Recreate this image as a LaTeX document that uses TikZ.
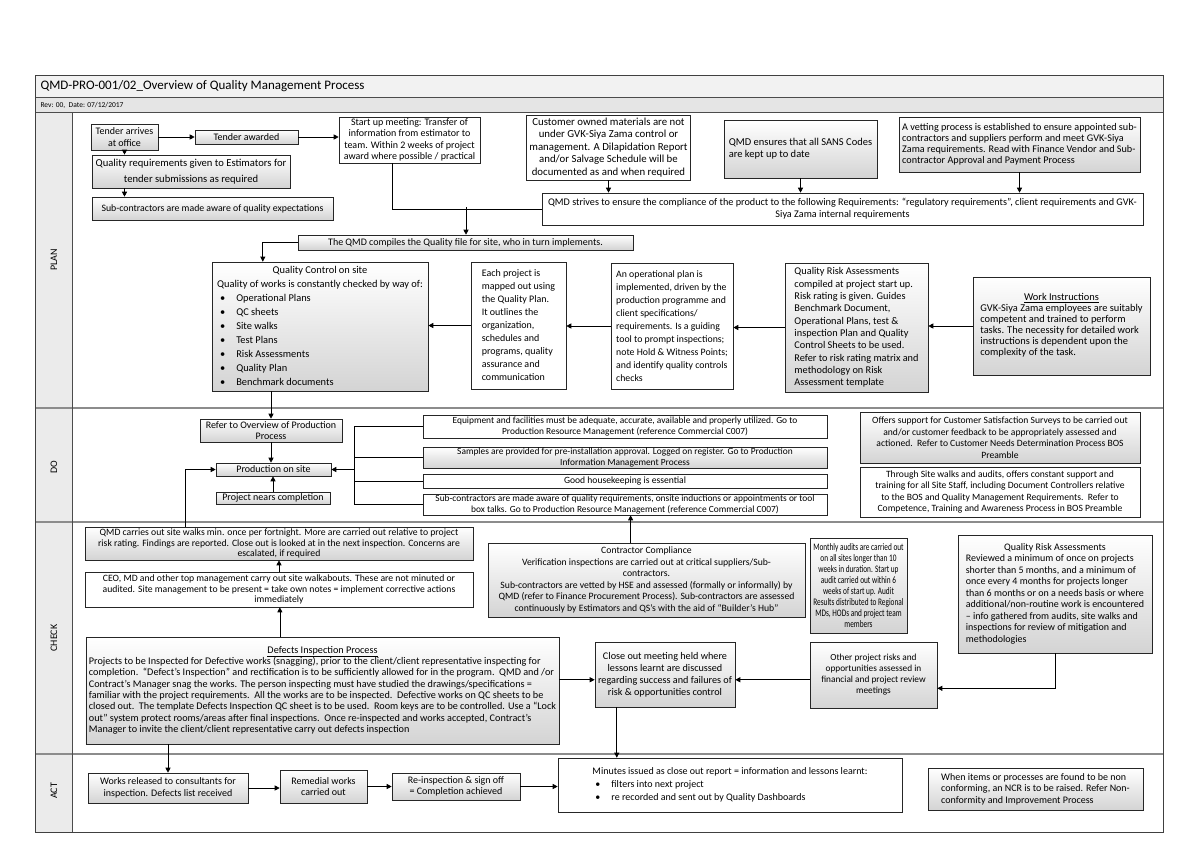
\documentclass[tikz,border=0pt]{standalone}
\usepackage{fontspec}
\setmainfont{Carlito}
\usetikzlibrary{arrows.meta,calc}
\newcommand\lftxt[1]{\begin{tabular}{@{}l@{}}#1\end{tabular}}
\newcommand\qb{\hspace*{3pt}\textbullet\hspace{11pt}}
\newcommand\mc[1]{\multicolumn{1}{@{}c@{}}{#1}}
\newcommand\fsz[2]{\fontsize{#1}{#2}\selectfont}
\begin{document}
\begin{tikzpicture}[x=1pt,y=-1pt,
  bx/.style={draw=black!85, line width=0.6pt, inner xsep=3pt, inner ysep=1pt, align=center,
    font=\fsz{10}{11.5}, top color=white, bottom color=black!17},
  wbx/.style={bx, top color=white, bottom color=white},
  arr/.style={line width=0.7pt, -{Triangle[length=5pt,width=5pt]}},
  ln/.style={line width=0.7pt},
  lane/.style={draw=black!45, line width=1.4pt},
  lab/.style={rotate=90, font=\fsz{10}{12}}
]
\useasboundingbox (0,0) rectangle (1200,849);
\fill[white] (0,0) rectangle (1200,849);
% frame
\fill[black!5] (35,75) rectangle (1163,97);
\fill[black!10] (35,97) rectangle (1163,112);
\fill[black!8] (35,112) rectangle (72,832);
\draw[lane] (35,408) -- (1163,408);
\draw[lane] (35,522) -- (1163,522);
\draw[lane] (35,754) -- (1163,754);
\draw[black!70, line width=0.9pt] (35,97) -- (1163,97);
\draw[black!70, line width=0.9pt] (35,112) -- (1163,112);
\draw[black!70, line width=0.9pt] (72,112) -- (72,832);
\draw[black!75, line width=1pt] (35,75) rectangle (1163,832);
\node[anchor=west, font=\fsz{13}{15}] (title) at (37,86) {QMD-PRO-001/02\_Overview of Quality Management Process};
\node[anchor=west, font=\fsz{7.5}{9}] (rev) at (37,105) {Rev: 00,\ \ Date: 07/12/2017};
\node[lab] (lplan) at (54,260) {PLAN};
\node[lab] (ldo) at (54,467) {DO};
\node[lab] (lcheck) at (54,638) {CHECK};
\node[lab] (lact) at (54,791) {ACT};

% PLAN
\node[bx, minimum width=67, minimum height=26] (ta) at (124.5,137) {Tender arrives\\at office};
\node[bx, minimum width=103, minimum height=14] (tw) at (246.5,137) {Tender awarded};
\node[bx, minimum width=198, minimum height=33, font=\fsz{10.6}{16}] (qr) at (191,171.5) {Quality requirements given to Estimators for\\tender submissions as required};
\node[bx, minimum width=241, minimum height=23, font=\fsz{9.8}{11.5}] (sc) at (212.5,208.5) {Sub-contractors are made aware of quality expectations};
\node[wbx, minimum width=141, minimum height=46] (su) at (409.5,140) {Start up meeting: Transfer of\\information from estimator to\\team. Within 2 weeks of project\\award where possible / practical};
\node[wbx, minimum width=163, minimum height=65, font=\fsz{10.8}{12.4}] (co) at (608.5,147.5) {Customer owned materials are not\\under GVK-Siya Zama control or\\management. A Dilapidation Report\\and/or Salvage Schedule will be\\documented as and when required};
\node[bx, minimum width=153, minimum height=58, align=left, font=\fsz{10.5}{12}] (sans) at (800.5,149) {QMD ensures that all SANS Codes\\are kept up to date};
\node[bx, minimum width=235, minimum height=55, align=left, font=\fsz{10.2}{11}] (vet) at (1019.5,144.5) {A vetting process is established to ensure appointed sub-\\contractors and suppliers perform and meet GVK-Siya\\Zama requirements. Read with Finance Vendor and Sub-\\contractor Approval and Payment Process};
\node[wbx, minimum width=601, minimum height=32, font=\fsz{10.2}{12}] (qs) at (842.5,209) {QMD strives to ensure the compliance of the product to the following Requirements: “regulatory requirements”, client requirements and GVK-\\Siya Zama internal requirements};
\node[bx, minimum width=335, minimum height=15] (qc) at (465.5,242.5) {The QMD compiles the Quality file for site, who in turn implements.};
\node[bx, minimum width=216, minimum height=129, align=none, font=\fsz{10.4}{14}] (qcs) at (320,326.5) {\lftxt{\mc{Quality Control on site}\\Quality of works is constantly checked by way of:\\\qb Operational Plans\\\qb QC sheets\\\qb Site walks\\\qb Test Plans\\\qb Risk Assessments\\\qb Quality Plan\\\qb Benchmark documents}};
\node[wbx, minimum width=95, minimum height=127, align=left, font=\fsz{10}{13}] (ep) at (518.5,325.5) {Each project is\\mapped out using\\the Quality Plan.\\It outlines the\\organization,\\schedules and\\programs, quality\\assurance and\\communication};
\node[wbx, minimum width=122, minimum height=126, align=left, font=\fsz{9.8}{13}] (op) at (672,326) {An operational plan is\\implemented, driven by the\\production programme and\\client specifications/\\requirements. Is a guiding\\tool to prompt inspections;\\note Hold \& Witness Points;\\and identify quality controls\\checks};
\node[bx, minimum width=143, minimum height=129, align=left, font=\fsz{10.3}{12.3}] (qra) at (856.5,327.5) {Quality Risk Assessments\\compiled at project start up.\\Risk rating is given. Guides\\Benchmark Document,\\Operational Plans, test \&\\inspection Plan and Quality\\Control Sheets to be used.\\Refer to risk rating matrix and\\methodology on Risk\\Assessment template};
\node[bx, minimum width=177, minimum height=98, align=none, font=\fsz{10.4}{11}] (wi) at (1061.5,326) {\lftxt{\mc{\underline{Work Instructions}}\\GVK-Siya Zama employees are suitably\\competent and trained to perform\\tasks. The necessity for detailed work\\instructions is dependent upon the\\complexity of the task.}};

% DO
\node[bx, minimum width=142, minimum height=23, font=\fsz{10}{10.5}] (ro) at (271,430.5) {Refer to Overview of Production\\Process};
\node[bx, minimum width=115, minimum height=13] (ps) at (273.5,469.5) {Production on site};
\node[bx, minimum width=114, minimum height=12] (pn) at (273,498) {Project nears completion};
\node[wbx, minimum width=404, minimum height=23, font=\fsz{9.4}{10.5}] (d1) at (625,426.5) {Equipment and facilities must be adequate, accurate, available and properly utilized. Go to\\Production Resource Management (reference Commercial C007)};
\node[bx, minimum width=404, minimum height=21, font=\fsz{9.4}{10.5}] (d2) at (625,457.5) {Samples are provided for pre-installation approval. Logged on register. Go to Production\\Information Management Process};
\node[wbx, minimum width=404, minimum height=14, font=\fsz{9.6}{11}] (d3) at (625,481) {Good housekeeping is essential};
\node[wbx, minimum width=404, minimum height=21, font=\fsz{9.4}{10.5}] (d4) at (625,504.5) {Sub-contractors are made aware of quality requirements, onsite inductions or appointments or tool\\box talks. Go to Production Resource Management (reference Commercial C007)};
\node[bx, minimum width=280, minimum height=51, font=\fsz{9.6}{11.5}] (cs1) at (1000,437.5) {Offers support for Customer Satisfaction Surveys to be carried out\\and/or customer feedback to be appropriately assessed and\\actioned.\ \ Refer to Customer Needs Determination Process BOS\\Preamble};
\node[wbx, minimum width=280, minimum height=50, font=\fsz{9.6}{11.5}] (cs2) at (1000,492) {Through Site walks and audits, offers constant support and\\training for all Site Staff, including Document Controllers relative\\to the BOS and Quality Management Requirements.\ \ Refer to\\Competence, Training and Awareness Process in BOS Preamble};

% CHECK
\node[bx, minimum width=388, minimum height=33, font=\fsz{9.7}{10.5}] (sw) at (279,543.5) {QMD carries out site walks min. once per fortnight. More are carried out relative to project\\risk rating. Findings are reported. Close out is looked at in the next inspection. Concerns are\\escalated, if required};
\node[wbx, minimum width=388, minimum height=35, font=\fsz{9.7}{10.8}] (ceo) at (279,589.5) {CEO, MD and other top management carry out site walkabouts. These are not minuted or\\audited. Site management to be present = take own notes = implement corrective actions\\immediately};
\node[bx, minimum width=473, minimum height=107, align=none, font=\fsz{10.2}{11.3}] (dip) at (322.5,690.5) {\lftxt{\mc{\underline{Defects Inspection Process}}\\
Projects to be Inspected for Defective works (snagging), prior to the client/client representative inspecting for\\
completion.\ \ “Defect’s Inspection” and rectification is to be sufficiently allowed for in the program.\ \ QMD and /or\\
Contract’s Manager snag the works. The person inspecting must have studied the drawings/specifications =\\
familiar with the project requirements.\ \ All the works are to be inspected.\ \ Defective works on QC sheets to be\\
closed out.\ \ The template Defects Inspection QC sheet is to be used.\ \ Room keys are to be controlled. Use a “Lock\\
out” system protect rooms/areas after final inspections.\ \ Once re-inspected and works accepted, Contract’s\\
Manager to invite the client/client representative carry out defects inspection}};
\node[bx, minimum width=317, minimum height=74, font=\fsz{9.7}{11.5}] (cc) at (646.5,580) {Contractor Compliance\\Verification inspections are carried out at critical suppliers/Sub-\\contractors.\\Sub-contractors are vetted by HSE and assessed (formally or informally) by\\QMD (refer to Finance Procurement Process). Sub-contractors are assessed\\continuously by Estimators and QS’s with the aid of “Builder’s Hub”};
\node[bx, minimum width=140, minimum height=65, font=\fsz{10.2}{12}] (com) at (665,674.5) {Close out meeting held where\\lessons learnt are discussed\\regarding success and failures of\\risk \& opportunities control};
\node[bx, minimum width=97, minimum height=95, inner xsep=1.5pt, font=\fsz{10}{11}\addfontfeature{FakeStretch=0.73}] (ma) at (858.5,585.5) {Monthly audits are carried out\\on all sites longer than 10\\weeks in duration. Start up\\audit carried out within 6\\weeks of start up. Audit\\Results distributed to Regional\\MDs, HODs and project team\\members};
\node[bx, minimum width=194, minimum height=118, align=none, font=\fsz{10}{11.5}] (qrr) at (1055,594) {\lftxt{\mc{Quality Risk Assessments}\\Reviewed a minimum of once on projects\\shorter than 5 months, and a minimum of\\once every 4 months for projects longer\\than 6 months or on a needs basis or where\\additional/non-routine work is encountered\\– info gathered from audits, site walks and\\inspections for review of mitigation and\\methodologies}};
\node[bx, minimum width=127, minimum height=66, font=\fsz{9.3}{11}] (opr) at (873.5,675) {Other project risks and\\opportunities assessed in\\financial and project review\\meetings};

% ACT
\node[bx, minimum width=160, minimum height=30] (wr) at (168,788) {Works released to consultants for\\inspection. Defects list received};
\node[bx, minimum width=87, minimum height=33] (rw) at (323.5,786.5) {Remedial works\\carried out};
\node[bx, minimum width=128, minimum height=27] (ri) at (456,786.5) {Re-inspection \& sign off\\= Completion achieved};
\node[wbx, minimum width=344, minimum height=54, align=none, font=\fsz{10}{13}] (mn) at (730,785) {\lftxt{Minutes issued as close out report = information and lessons learnt:\\\qb filters into next project\\\qb re recorded and sent out by Quality Dashboards}};
\node[bx, minimum width=215, minimum height=42, align=left] (ncr) at (1035.5,789) {When items or processes are found to be non\\conforming, an NCR is to be raised. Refer Non-\\conformity and Improvement Process};

% connectors PLAN
\draw[arr] (ta.east) -- (ta.east -| tw.west);
\draw[arr] (tw.east) -- (tw.east -| su.west);
\draw[arr] (ta.south) -- (ta.south |- qr.north);
\draw[arr] (qr.south -| ta.south) -- (sc.north -| ta.south);
\coordinate (j1) at (466,207);
\coordinate (sub) at ($(su.south west)!0.376!(su.south east)$);
\draw[ln] (sub) |- (qs.west);
\draw[arr] (j1) -- (j1 |- qc.north);
\draw[arr] (co.south) -- (co.south |- qs.north);
\draw[arr] (sans.south) -- (sans.south |- qs.north);
\draw[arr] (vet.south) -- (vet.south |- qs.north);
\coordinate (qcsin) at ($(qcs.north west)!0.236!(qcs.north east)$);
\draw[arr] (qc.west) -| (qcsin);
\draw[arr] (ep.west) -- (ep.west -| qcs.east);
\draw[arr] (op.west) -- (op.west -| ep.east);
\draw[arr] (qra.west) -- (qra.west -| op.east);
\draw[arr] (wi.west) -- (wi.west -| qra.east);
% DO
\draw[arr] (qcs.south -| ro.north) -- (ro.north);
\draw[arr] (ro.south) -- (ro.south |- ps.north);
\draw[arr] (pn.north) -- (pn.north |- ps.south);
\coordinate (br) at (354,470);
\draw[ln] (d1.west) -- (d1.west -| br) -- (d4.west -| br) -- (d4.west);
\draw[ln] (d2.west) -- (d2.west -| br);
\draw[ln] (d3.west) -- (d3.west -| br);
\draw[arr] (ps.east -| br) -- (ps.east);
\coordinate (cctop) at ($(cc.north west)!0.45!(cc.north east)$);
\draw[arr] (cctop) -- (cctop |- d4.south);
\coordinate (swtop) at ($(sw.north west)!0.26!(sw.north east)$);
\draw[arr] (swtop) |- (ps.west);
% CHECK
\draw[arr] (ceo.north) -- (ceo.north |- sw.south);
\coordinate (diptop) at ($(dip.north west)!0.41!(dip.north east)$);
\draw[arr] (diptop) -- (diptop |- ceo.south);
\coordinate (comw) at ($(com.north west)!0.58!(com.south west)$);
\draw[arr] (comw -| dip.east) -- (comw);
\coordinate (come) at ($(com.north east)!0.58!(com.south east)$);
\draw[arr] (come -| opr.west) -- (come);
\coordinate (opre) at ($(opr.north east)!0.7!(opr.south east)$);
\draw[arr] (qrr.south) |- (opre);
% ACT
\draw[arr] (dip.south -| wr.north) -- (wr.north);
\coordinate (comb) at ($(com.south west)!0.157!(com.south east)$);
\draw[arr] (comb) -- (comb |- mn.north);
\draw[arr] (wr.east) -- (wr.east -| rw.west);
\draw[arr] (rw.east) -- (rw.east -| ri.west);
\draw[arr] (ri.east) -- (ri.east -| mn.west);
\end{tikzpicture}
\end{document}
